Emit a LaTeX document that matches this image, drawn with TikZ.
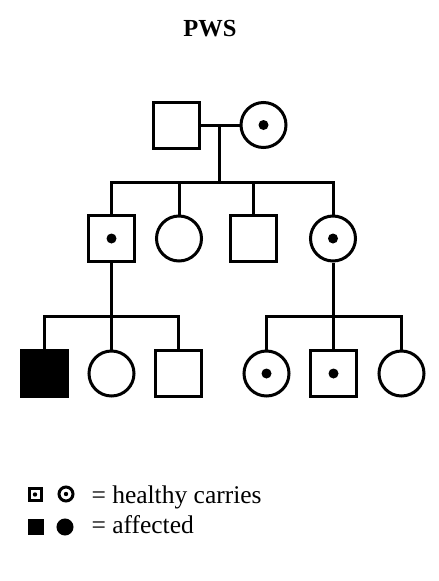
\documentclass[tikz,border=0pt]{standalone}
\usepackage{fontspec}
\setmainfont{Liberation Serif}
\begin{document}
\begin{tikzpicture}[x=1pt,y=-1pt,
  line width=3pt,
  male/.style={draw,rectangle,minimum size=46pt,inner sep=0pt,line width=3pt},
  female/.style={draw,circle,minimum size=45pt,inner sep=0pt,line width=3pt},
  carrier/.style={path picture={\fill (path picture bounding box.center) circle (5pt);}},
  affected/.style={fill=black},
  lmale/.style={draw,rectangle,minimum size=12pt,inner sep=0pt,line width=3pt},
  lfemale/.style={draw,circle,minimum size=14pt,inner sep=0pt,line width=3pt},
  lcarrier/.style={path picture={\fill (path picture bounding box.center) circle (2.2pt);}},
  legtext/.style={anchor=base west,inner sep=0pt,font=\fontsize{25.5}{30}\selectfont},
  conn/.style={line width=3pt}
]
\useasboundingbox (0,0) rectangle (439,581);
\node[anchor=base,inner sep=0pt,font=\fontsize{24.5}{28}\selectfont\bfseries] (title) at (210,36.7) {PWS};

% generation 1
\node[male] (f) at (176,125) {};
\node[female,carrier] (m) at (263.5,125) {};
\draw[conn] (f.east) -- (m.west);
\coordinate (c1) at (219,125);
\coordinate (s1) at (219,182);
\draw[conn] (c1) -- (s1);

% generation 2
\node[male,carrier] (a) at (111.5,238.5) {};
\node[female] (b) at (179,238.5) {};
\node[male] (c) at (253,238.5) {};
\node[female,carrier] (d) at (333,238.5) {};
\draw[conn] (a.north) |- (s1) -| (d.north);
\draw[conn] (b.north) -- (b.north |- s1);
\draw[conn] (c.north) -- (c.north |- s1);

% generation 3 left
\coordinate (s2) at (111.5,316.7);
\node[male,affected] (g1) at (44.5,373.5) {};
\node[female] (g2) at (111.5,373.5) {};
\node[male] (g3) at (178.5,373.5) {};
\draw[conn] (a.south) -- (s2);
\draw[conn] (g1.north) |- (s2) -| (g3.north);
\draw[conn] (g2.north) -- (g2.north |- s2);

% generation 3 right
\coordinate (s3) at (333,316.7);
\node[female,carrier] (h1) at (266.5,373.5) {};
\node[male,carrier] (h2) at (333.5,373.5) {};
\node[female] (h3) at (401.5,373.5) {};
\draw[conn] (d.south) -- (s3);
\draw[conn] (h1.north) |- (s3) -| (h3.north);
\draw[conn] (h2.north) -- (h2.north |- s3);

% legend
\node[lmale,lcarrier] (l1) at (35,494.5) {};
\node[lfemale,lcarrier] (l2) at (66,494) {};
\node[legtext] (t1) at (90,503.3) {= healthy carries};
\node[lmale,affected,minimum size=13pt] (l3) at (35.5,527) {};
\node[lfemale,affected,minimum size=14pt] (l4) at (65,527) {};
\node[legtext] (t2) at (90,533) {= affected};
\end{tikzpicture}
\end{document}
